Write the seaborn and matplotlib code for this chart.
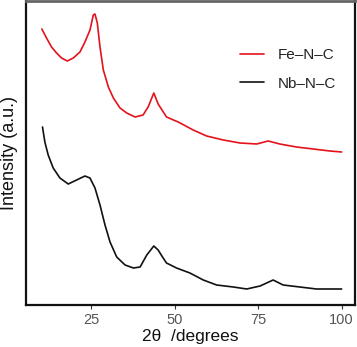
import matplotlib
matplotlib.use("Agg")
import matplotlib.pyplot as plt
from matplotlib.lines import Line2D
import seaborn as sns
import pandas as pd

# XRD patterns (arbitrary intensity units)
fe_theta = [10.3, 11.7, 13.2, 14.7, 16.2, 17.9, 19.7, 21.7, 23.2, 24.7, 25.7,
            26.2, 26.9, 27.7, 28.7, 30.2, 31.7, 33.7, 35.7, 38.2, 40.6, 42.1,
            43.8, 45.1, 47.6, 51.1, 55.6, 59.6, 64.6, 69.6, 74.6, 78.0, 81.5,
            86.5, 91.5, 96.5, 100.0]
fe_intensity = [276, 267, 258, 252, 247, 244, 247, 253, 263, 275, 290,
                291, 282, 258, 235, 218, 207, 197, 192, 188, 190, 198,
                212, 201, 188, 183, 175, 169, 165, 162, 161, 164, 161,
                158, 156, 154, 153]

nb_theta = [10.5, 11.2, 12.2, 13.7, 15.7, 18.2, 20.7, 23.2, 24.7, 26.2, 27.7,
            29.2, 30.7, 32.7, 35.2, 37.7, 39.7, 41.7, 43.8, 45.1, 46.6, 47.6,
            50.6, 54.6, 58.6, 62.6, 67.6, 71.6, 75.6, 79.5, 82.5, 87.5, 92.5,
            100.0]
nb_intensity = [178, 163, 150, 137, 127, 121, 125, 129, 127, 117, 100,
                80, 63, 48, 40, 37, 38, 50, 59, 55, 47, 42,
                37, 32, 25, 20, 18, 16, 19, 25, 20, 18, 16,
                16]

samples = ["Fe\u2013N\u2013C", "Nb\u2013N\u2013C"]
line_colors = ["#e3121b", "#111111"]
x_ticks = [25, 50, 75, 100]

df = pd.concat([
    pd.DataFrame({"theta": fe_theta, "intensity": fe_intensity, "sample": samples[0]}),
    pd.DataFrame({"theta": nb_theta, "intensity": nb_intensity, "sample": samples[1]}),
])

sns.set_style("white")
plt.rcParams["font.family"] = ["Liberation Sans", "DejaVu Sans"]

W, H = 357, 347
fig = plt.figure(figsize=(W / 100, H / 100), dpi=100)
left, right, top, bottom = 26, 355, 1, 305
ax = fig.add_axes([left / W, 1 - bottom / H, (right - left) / W, (bottom - top) / H])

sns.lineplot(data=df, x="theta", y="intensity", hue="sample",
             palette=dict(zip(samples, line_colors)), linewidth=1.2,
             ax=ax, legend=False, sort=False)

ax.set_xlim(5.56, 104)
ax.set_ylim(0, 304)
ax.set_xticks(x_ticks)
ax.set_xticklabels([str(t) for t in x_ticks], fontsize=10.5, color="#555555")
ax.set_yticks([])
ax.tick_params(axis="x", length=3, width=0.8, color="#333333", pad=3, bottom=True)

for side in ["left", "bottom", "right"]:
    ax.spines[side].set_color("#111111")
    ax.spines[side].set_linewidth(1.6)
ax.spines["top"].set_color("#666666")
ax.spines["top"].set_linewidth(2.0)

ax.set_xlabel("2\u03b8  /degrees", fontsize=12.5, color="#111111", labelpad=1)
ax.set_ylabel("Intensity (a.u.)", fontsize=13, color="#111111", labelpad=6)

# legend
handles = [Line2D([], [], color=c, lw=1.2) for c in line_colors]
leg = ax.legend(handles, samples, loc="upper right", bbox_to_anchor=(0.985, 0.89),
                frameon=False, fontsize=11, handlelength=1.6, handletextpad=0.9,
                labelspacing=0.95)
for t in leg.get_texts():
    t.set_color("#222222")

fig.savefig("out.png", dpi=100)
